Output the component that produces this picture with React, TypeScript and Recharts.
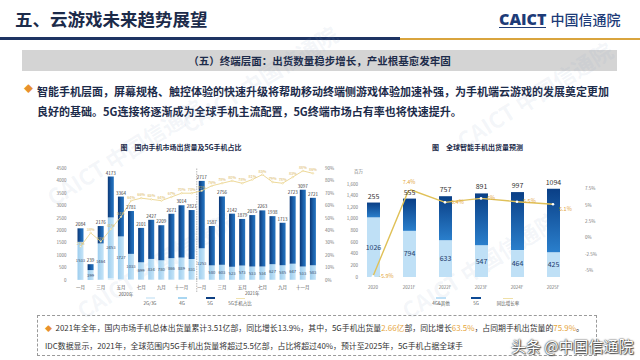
import React from "react";
import { ComposedChart, Bar, Line, XAxis, YAxis, LabelList, ReferenceLine } from "recharts";

const FONT = '"Noto Sans CJK SC", "Noto Sans", sans-serif';

// 国内手机市场出货量（万部）2020.01 - 2021.12
const monthKeys = [
  "2020-01", "2020-02", "2020-03", "2020-04", "2020-05", "2020-06",
  "2020-07", "2020-08", "2020-09", "2020-10", "2020-11", "2020-12",
  "2021-01", "2021-02", "2021-03", "2021-04", "2021-05", "2021-06",
  "2021-07", "2021-08", "2021-09", "2021-10", "2021-11", "2021-12",
];
const monthTicks = [
  "一月", "", "三月", "", "五月", "", "七月", "", "九月", "", "十一月", "",
  "一月", "", "三月", "", "五月", "", "七月", "", "九月", "", "十一月", "",
];
const g23 = [5, 0, 10, 70, 30, 20, 15, 15, 15, 15, 15, 15, 26, 10, 10, 10, 10, 10, 10, 10, 10, 10, 10, 10];
const g4 = [1533, 399, 1464, 2453, 1727, 1033, 699, 834, 780, 866, 889, 831, 1253, 580, 603, 523, 573, 533, 534, 627, 585, 647, 533, 583];
const g5 = [546, 239, 702, 1650, 1607, 1728, 1387, 1578, 1414, 1790, 2110, 1975, 2717, 1587, 2756, 2142, 1879, 2075, 2263, 1938, 1713, 2723, 3097, 2721];
const topLabels = [2084, 239, 2176, 4173, 3364, 2781, 2101, 2427, 2209, 2671, 3014, 2821, 2717, 1587, 2756, 2142, 1879, 2075, 2263, 1938, 1713, 2723, 3097, 2721];
const share5g = [27, 38, 31, 41, 51, 64, 66, 65, 64, 67, 70, 70, 72, 76, 78, 80, 78, 81, 85, 79, 78, 83, 88, 86];

// 全球智能手机出货量预测（百万部）
const years = ["2020", "2021F", "2022F", "2023F", "2024F", "2025F"];
const otherShip = [1026, 794, 633, 547, 464, 425];
const fiveGShip = [255, 555, 757, 891, 997, 1094];
const growth = [-5.9, 7.4, 5.4, 6.0, 5.5, 5.1];

const domesticData = monthKeys.map((key, i) => ({
  key,
  g23: g23[i],
  g4: g4[i],
  g5: g5[i],
  top: topLabels[i],
  share: share5g[i],
}));

const globalData = years.map((year, i) => ({
  year,
  other: otherShip[i],
  fiveG: fiveGShip[i],
  growth: growth[i],
}));

const growthLabelPos = ["right", "top", "right", "right", "right", "right"];

function MonthTick(props: any) {
  const { x, y, payload } = props;
  const i = payload.index;
  return (
    <g>
      {monthTicks[i] && (
        <text x={x} y={y + 7} textAnchor="middle" fontSize={4.5} fill="#555" fontFamily={FONT}>
          {monthTicks[i]}
        </text>
      )}
      {i === 5 && (
        <text x={x - 5} y={y + 14} textAnchor="middle" fontSize={4.5} fill="#555" fontFamily={FONT}>
          2020年
        </text>
      )}
      {i === 17 && (
        <text x={x} y={y + 13} textAnchor="middle" fontSize={4.5} fill="#555" fontFamily={FONT}>
          2021年
        </text>
      )}
      {i === 12 && (
        <line x1={x - 5.05} x2={x - 5.05} y1={y - 4} y2={y + 11} stroke="#8a8a8a" strokeWidth={0.6} strokeDasharray="1.5 1" />
      )}
    </g>
  );
}

function GrowthLabel(props: any) {
  const { x, y, value, index } = props;
  const pos = growthLabelPos[index];
  const dx = pos === "top" ? 0 : 6;
  const dy = pos === "top" ? -5 : index === 5 ? 7 : 1.5;
  return (
    <text x={x + dx} y={y + dy} textAnchor={pos === "top" ? "middle" : "start"} fontSize={5.5} fill="#e2a43c" fontFamily={FONT}>
      {value}%
    </text>
  );
}

function Watermark({ left, top }: { left: number; top: number }) {
  return (
    <div
      style={{
        position: "absolute",
        left,
        top,
        transform: "rotate(-32deg)",
        transformOrigin: "left top",
        fontSize: 22,
        fontWeight: 700,
        color: "rgba(140,160,195,0.1)",
        whiteSpace: "nowrap",
        pointerEvents: "none",
      }}
    >
      CAICT 中国信通院
    </div>
  );
}

function LegendItem({ x, label, swatch }: { x: number; label: string; swatch: React.ReactNode }) {
  return (
    <div style={{ position: "absolute", left: x - 15, width: 30, top: 0, textAlign: "center" }}>
      <div style={{ height: 4, display: "flex", justifyContent: "center", alignItems: "center" }}>{swatch}</div>
      <div style={{ fontSize: 4.5, color: "#555", lineHeight: "6px", whiteSpace: "nowrap" }}>{label}</div>
    </div>
  );
}

export default function App() {
  return (
    <div
      style={{
        position: "fixed",
        left: 0,
        top: 0,
        width: 640,
        height: 360,
        background: "#fff",
        overflow: "hidden",
        fontFamily: FONT,
      }}
    >
      {/* header */}
      <div style={{ position: "absolute", left: 15, top: 6, fontSize: 17.5, fontWeight: 700, color: "#1c2b4a" }}>
        五、云游戏未来趋势展望
      </div>
      <div style={{ position: "absolute", left: 499, top: 9, display: "flex", alignItems: "center", gap: 4 }}>
        <span style={{ fontSize: 16, fontWeight: 800, color: "#1d3b78", borderBottom: "1.5px solid #1d3b78", lineHeight: "16px", fontFamily: '"Open Sans", sans-serif' }}>
          CAICT
        </span>
        <span style={{ fontSize: 14, fontWeight: 500, color: "#1d3b78" }}>中国信通院</span>
      </div>
      <div style={{ position: "absolute", left: 0, top: 37, width: 400, height: 3, background: "#1e3463" }} />
      <div style={{ position: "absolute", left: 400, top: 38, width: 240, height: 2, background: "#d9a43e" }} />

      {/* banner */}
      <div
        style={{
          position: "absolute",
          left: 22,
          top: 50,
          width: 595,
          height: 21,
          background: "#d4d4d4",
          textAlign: "center",
          lineHeight: "21px",
          fontSize: 10.5,
          fontWeight: 700,
          color: "#1c2b4a",
        }}
      >
        （五）终端层面：出货数量稳步增长，产业根基愈发牢固
      </div>

      {/* bullet text */}
      <div style={{ position: "absolute", left: 24, top: 82, fontSize: 9, color: "#e8912d" }}>◆</div>
      <div style={{ position: "absolute", left: 37, top: 81, width: 580, fontSize: 11, fontWeight: 700, color: "#1c2b4a", lineHeight: "20px" }}>
        智能手机层面，屏幕规格、触控体验的快速升级将帮助移动终端侧游戏体验加速补强，为手机端云游戏的发展奠定更加
        <br />
        良好的基础。5G连接将逐渐成为全球手机主流配置，5G终端市场占有率也将快速提升。
      </div>

      <Watermark left={175} top={112} />
      <Watermark left={450} top={128} />
      <Watermark left={70} top={298} />
      <Watermark left={395} top={298} />
      <Watermark left={40} top={185} />

      {/* left chart */}
      <div style={{ position: "absolute", left: 106, top: 142, width: 150, textAlign: "center", fontSize: 7, fontWeight: 700, color: "#1c2b4a", whiteSpace: "nowrap" }}>
        图　国内手机市场出货量及5G手机占比
      </div>
      <div style={{ position: "absolute", left: 36, top: 150 }}>
        <ComposedChart width={300} height={165} data={domesticData} margin={{ top: 18.4, right: 0, bottom: 10, left: 0 }} barSize={6}>
          <defs>
            <linearGradient id="ldark" x1="0" y1="0" x2="1" y2="0">
              <stop offset="0%" stopColor="#0b3877" />
              <stop offset="60%" stopColor="#1b62ad" />
              <stop offset="100%" stopColor="#2674bf" />
            </linearGradient>
            <linearGradient id="llight" x1="0" y1="0" x2="1" y2="0">
              <stop offset="0%" stopColor="#9dcdee" />
              <stop offset="100%" stopColor="#c6e5f8" />
            </linearGradient>
          </defs>
          <XAxis dataKey="key" height={25} interval={0} tickLine={false} axisLine={false} tickSize={0} tickMargin={2} tick={<MonthTick />} />
          <YAxis
            yAxisId="left"
            width={39.5}
            domain={[0, 4500]}
            ticks={[0, 500, 1000, 1500, 2000, 2500, 3000, 3500, 4000, 4500]}
            tick={{ fontSize: 4.5, fill: "#777" }}
            tickLine={false}
            axisLine={false}
            tickMargin={3}
          />
          <YAxis
            yAxisId="right"
            orientation="right"
            width={18}
            domain={[0, 90]}
            ticks={[0, 10, 20, 30, 40, 50, 60, 70, 80, 90]}
            tickFormatter={(v: number) => `${v}%`}
            tick={{ fontSize: 4.5, fill: "#777" }}
            tickLine={false}
            axisLine={false}
            tickMargin={1}
          />
          <ReferenceLine yAxisId="left" x="2021-01" position="start" stroke="#8a8a8a" strokeWidth={0.6} strokeDasharray="1.5 1" />
          <Bar yAxisId="left" dataKey="g23" stackId="a" fill="#e3f2fb" isAnimationActive={false} />
          <Bar yAxisId="left" dataKey="g4" stackId="a" fill="url(#llight)" isAnimationActive={false}>
            <LabelList dataKey="g4" position="center" fontSize={4.2} fill="#3a4a66" />
          </Bar>
          <Bar yAxisId="left" dataKey="g5" stackId="a" fill="url(#ldark)" isAnimationActive={false}>
            <LabelList dataKey="top" position="top" offset={2} fontSize={4.5} fill="#333" />
          </Bar>
          <Line
            yAxisId="right"
            dataKey="share"
            stroke="#e8cf80"
            strokeWidth={0.8}
            dot={{ r: 0.8, fill: "#fff", stroke: "#e8cf80", strokeWidth: 0.5 }}
            isAnimationActive={false}
          >
            <LabelList dataKey="share" position="top" offset={2} fontSize={3.8} fill="#d9b55a" formatter={(v: any) => `${v}%`} />
          </Line>
        </ComposedChart>
      </div>
      <div style={{ position: "absolute", left: 0, top: 296, width: 340, height: 12 }}>
        <LegendItem x={150} label="2G/3G" swatch={<div style={{ width: 9, height: 1.2, background: "#dcedf8" }} />} />
        <LegendItem x={182} label="4G" swatch={<div style={{ width: 9, height: 1.2, background: "#a9d6f1" }} />} />
        <LegendItem x={210} label="5G" swatch={<div style={{ width: 9, height: 2, background: "#0d3f82" }} />} />
        <LegendItem x={240} label="5G手机占比" swatch={<div style={{ width: 9, height: 0.8, background: "#f0e2b0" }} />} />
      </div>

      {/* right chart */}
      <div style={{ position: "absolute", left: 420, top: 142, width: 115, textAlign: "center", fontSize: 7, fontWeight: 700, color: "#1c2b4a", whiteSpace: "nowrap" }}>
        图　全球智能手机出货量预测
      </div>
      <div style={{ position: "absolute", left: 354, top: 168, fontSize: 4.5, color: "#777" }}>百万</div>
      <div style={{ position: "absolute", left: 338, top: 150 }}>
        <ComposedChart width={262} height={160} data={globalData} margin={{ top: 34, right: 0, bottom: 10, left: 0 }} barSize={13}>
          <defs>
            <linearGradient id="rdark" x1="0" y1="0" x2="0" y2="1">
              <stop offset="0%" stopColor="#0a3f86" />
              <stop offset="100%" stopColor="#2a7fcc" />
            </linearGradient>
          </defs>
          <XAxis dataKey="year" height={23} tickLine={false} axisLine={false} tickMargin={3} tick={{ fontSize: 4.5, fill: "#777" }} />
          <YAxis
            yAxisId="left"
            width={17}
            domain={[0, 1600]}
            ticks={[0, 200, 400, 600, 800, 1000, 1200, 1400, 1600]}
            tickFormatter={(v: number) => v.toLocaleString("en-US")}
            tick={{ fontSize: 4.5, fill: "#777", dx: 11 }}
            tickLine={false}
            axisLine={false}
            tickMargin={2}
          />
          <YAxis
            yAxisId="right"
            orientation="right"
            width={29}
            domain={[-6, 8.2]}
            ticks={[-5, -2.5, 0, 2.5, 5, 7.5]}
            tickFormatter={(v: number) => `${v}%`}
            tick={{ fontSize: 4.5, fill: "#777", dx: 6 }}
            tickLine={false}
            axisLine={false}
          />
          <Bar yAxisId="left" dataKey="other" stackId="b" fill="#bfe0f6" isAnimationActive={false}>
            <LabelList dataKey="other" position="center" fontSize={7} fill="#1c3a6a" />
          </Bar>
          <Bar yAxisId="left" dataKey="fiveG" stackId="b" fill="url(#rdark)" isAnimationActive={false}>
            <LabelList dataKey="fiveG" position="top" offset={4} fontSize={7} fill="#333" />
          </Bar>
          <Line
            yAxisId="right"
            dataKey="growth"
            stroke="#e0c158"
            strokeWidth={1.4}
            dot={{ r: 1.3, fill: "#fff", stroke: "#fff", strokeWidth: 0 }}
            isAnimationActive={false}
          >
            <LabelList dataKey="growth" content={<GrowthLabel />} />
          </Line>
        </ComposedChart>
      </div>
      <div style={{ position: "absolute", left: 0, top: 296, width: 640, height: 12 }}>
        <LegendItem x={441} label="4G&其他" swatch={<div style={{ width: 10, height: 1.5, background: "#bfe0f6" }} />} />
        <LegendItem x={476} label="5G" swatch={<div style={{ width: 10, height: 2, background: "#0d4a95" }} />} />
        <LegendItem x={508} label="同比增长率" swatch={<div style={{ width: 10, height: 1, background: "#efe0a8" }} />} />
      </div>

      {/* bottom box */}
      <div
        style={{
          position: "absolute",
          left: 37,
          top: 315,
          width: 560,
          height: 41,
          border: "1px dashed #9a9a9a",
          boxSizing: "border-box",
          padding: "3px 0 0 7px",
          fontSize: 7.9,
          color: "#333",
          lineHeight: "17px",
          whiteSpace: "nowrap",
          overflow: "hidden",
        }}
      >
        <span style={{ color: "#e8912d", fontSize: 7 }}>◆</span>&nbsp;
        2021年全年，国内市场手机总体出货量累计3.51亿部，同比增长13.9%，其中，5G手机出货量
        <span style={{ color: "#e6a53c" }}>2.66亿</span>部，同比增长<span style={{ color: "#e6a53c" }}>63.5%</span>，占同期手机出货量的
        <span style={{ color: "#e6a53c" }}>75.9%</span>。
        <br />
        IDC数据显示，2021年，全球范围内5G手机出货量将超过5.5亿部，占比将超过40%，预计至2025年，5G手机占据全球手
      </div>
      <div
        style={{
          position: "absolute",
          left: 511,
          top: 335,
          fontSize: 15,
          color: "#fff",
          whiteSpace: "nowrap",
          textShadow: "0 0 1px #333, 0 0 2px #444, 1px 1px 1px #555",
        }}
      >
        头条 @中国信通院
      </div>
    </div>
  );
}
